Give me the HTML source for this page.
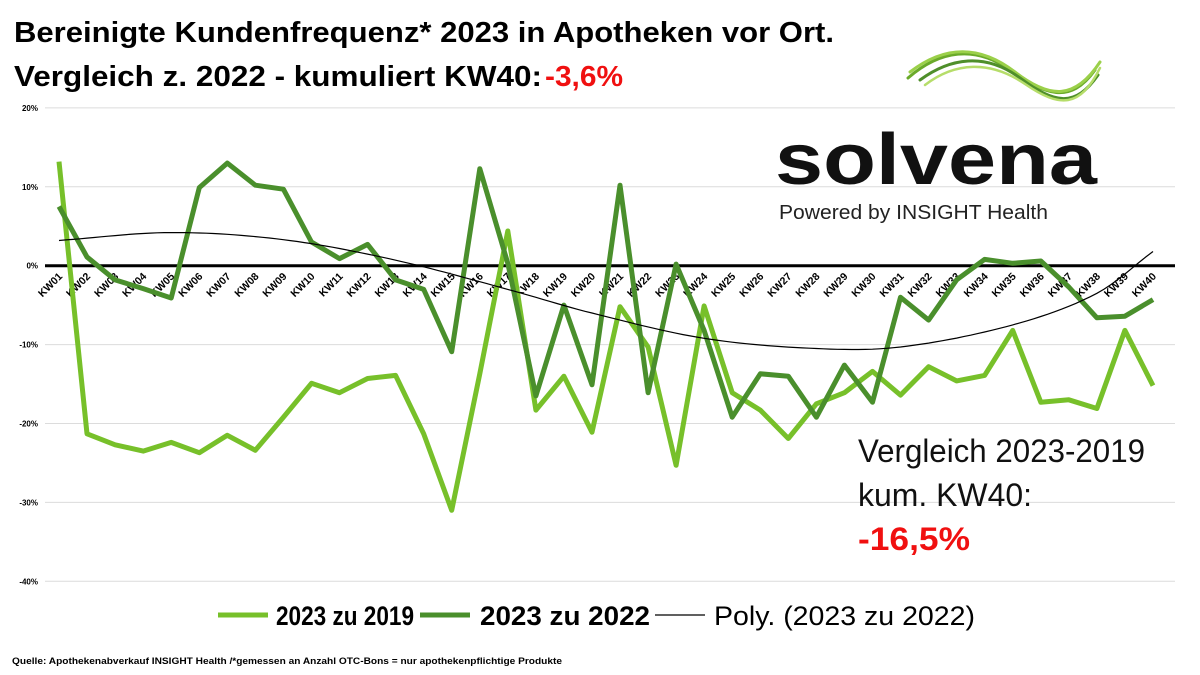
<!DOCTYPE html>
<html><head><meta charset="utf-8"><style>
html,body{margin:0;padding:0;background:#fff;width:1200px;height:675px;overflow:hidden}
svg{display:block}
</style></head><body>
<svg id="s" width="1200" height="675" viewBox="0 0 1200 675" xmlns="http://www.w3.org/2000/svg" font-family="'Liberation Sans', sans-serif">
<text x="14" y="42" font-size="29" font-weight="bold" textLength="820" lengthAdjust="spacingAndGlyphs">Bereinigte Kundenfrequenz* 2023 in Apotheken vor Ort.</text>
<text x="14" y="86" font-size="29" font-weight="bold" textLength="528" lengthAdjust="spacingAndGlyphs">Vergleich z. 2022 - kumuliert KW40:</text>
<text x="545" y="86" font-size="29" font-weight="bold" fill="#f01010" textLength="78" lengthAdjust="spacingAndGlyphs">-3,6%</text>
<g fill="none" stroke-linecap="round">
<path d="M908,78 C940,50 975,45 1010,70 S1070,105 1095,70" stroke="#6aaa2a" stroke-width="3"/>
<path d="M910,72 C945,45 980,45 1015,72 S1075,100 1100,62" stroke="#9bd04a" stroke-width="3"/>
<path d="M920,80 C950,58 985,52 1020,78 S1075,108 1098,75" stroke="#4f8f2a" stroke-width="3"/>
<path d="M925,85 C955,62 990,60 1025,84 S1080,108 1100,68" stroke="#b6dd6a" stroke-width="2.5"/>
</g>
<text x="775" y="184" font-size="72" font-weight="bold" fill="#111" textLength="322" lengthAdjust="spacingAndGlyphs">solvena</text>
<text x="779" y="219" font-size="20" fill="#222" textLength="269" lengthAdjust="spacingAndGlyphs">Powered by INSIGHT Health</text>
<g id="grid"></g>
<g id="lbl"></g>
<g id="series"></g>
<text x="858" y="462" font-size="32" fill="#111" textLength="287" lengthAdjust="spacingAndGlyphs">Vergleich 2023-2019</text>
<text x="858" y="506" font-size="32" fill="#111" textLength="174" lengthAdjust="spacingAndGlyphs">kum. KW40:</text>
<text x="858" y="550" font-size="32" font-weight="bold" fill="#f01010" textLength="112" lengthAdjust="spacingAndGlyphs">-16,5%</text>
<line x1="218" y1="615" x2="268" y2="615" stroke="#77c02a" stroke-width="5"/>
<text x="276" y="625" font-size="27" font-weight="bold" textLength="138" lengthAdjust="spacingAndGlyphs">2023 zu 2019</text>
<line x1="420" y1="615" x2="470" y2="615" stroke="#4a8f2c" stroke-width="5"/>
<text x="480" y="625" font-size="27" font-weight="bold" textLength="170" lengthAdjust="spacingAndGlyphs">2023 zu 2022</text>
<line x1="655" y1="615" x2="705" y2="615" stroke="#000" stroke-width="1.2"/>
<text x="714" y="625" font-size="27" textLength="261" lengthAdjust="spacingAndGlyphs">Poly. (2023 zu 2022)</text>
<text x="12" y="664" font-size="9.5" font-weight="bold" textLength="550" lengthAdjust="spacingAndGlyphs">Quelle: Apothekenabverkauf INSIGHT Health /*gemessen an Anzahl OTC-Bons = nur apothekenpflichtige Produkte</text>
</svg>
<script>
var NS="http://www.w3.org/2000/svg";
function el(p,t,a,txt){var e=document.createElementNS(NS,t);for(var k in a)e.setAttribute(k,a[k]);if(txt)e.textContent=txt;document.getElementById(p).appendChild(e);return e;}
function Y(v){return 265.7-v*7.89;}
function X(i){return 59+i*28.05;}
var g=[20,10,-10,-20,-30,-40];
g.forEach(function(v){el("grid","line",{x1:45,x2:1175,y1:Y(v),y2:Y(v),stroke:"#dcdcdc","stroke-width":1});
el("grid","text",{x:38,y:Y(v)+3,"font-size":8,"font-weight":"bold","text-anchor":"end"},v+"%");});
el("grid","text",{x:38,y:Y(0)+3,"font-size":8,"font-weight":"bold","text-anchor":"end"},"0%");
el("grid","line",{x1:45,x2:1175,y1:Y(0),y2:Y(0),stroke:"#000","stroke-width":3});
for(var i=0;i<40;i++){var x=X(i)+4,y=277;var n=(i+1<10?"0":"")+(i+1);
el("lbl","text",{x:x,y:y,"font-size":10.5,"font-weight":"bold","text-anchor":"end",transform:"rotate(-45 "+x+" "+y+")"},"KW"+n);}
var a=[13.2,-21.3,-22.7,-23.5,-22.4,-23.7,-21.5,-23.4,-19.2,-14.9,-16.1,-14.3,-13.9,-21.3,-31,-13.7,4.4,-18.3,-14,-21.1,-5.2,-10.3,-25.3,-5.1,-16.1,-18.3,-21.9,-17.5,-16.1,-13.4,-16.4,-12.8,-14.6,-13.9,-8.2,-17.3,-17,-18.1,-8.2,-15.2];
var b=[7.5,1.1,-1.8,-2.9,-4.1,9.9,13,10.2,9.7,3,0.9,2.7,-1.8,-3,-10.9,12.3,0.3,-16.5,-5,-15.1,10.2,-16.1,0.2,-8.2,-19.2,-13.7,-14,-19.2,-12.6,-17.3,-4,-6.9,-1.8,0.8,0.3,0.6,-2.7,-6.6,-6.4,-4.3];
function pts(d){return d.map(function(v,i){return X(i).toFixed(1)+","+Y(v).toFixed(1)}).join(" ");}
el("series","polyline",{points:pts(a),fill:"none",stroke:"#77c02a","stroke-width":5,"stroke-linejoin":"round"});
el("series","polyline",{points:pts(b),fill:"none",stroke:"#4a8f2c","stroke-width":5,"stroke-linejoin":"round"});
var kx=[0,4,8,12,16,19,23,27,30,34,37,39],ky=[3.2,4.2,3.3,0.7,-3.0,-6.0,-9.2,-10.5,-10.3,-7.5,-3.5,1.8];
var p=[];for(var t=0;t<=39;t+=0.25){var j=0;while(j<kx.length-2&&t>kx[j+1])j++;
var x0=kx[j],x1=kx[j+1],u=(t-x0)/(x1-x0);
var m0=j>0?(ky[j+1]-ky[j-1])/(kx[j+1]-kx[j-1]):(ky[1]-ky[0])/(kx[1]-kx[0]);
var m1=j+2<kx.length?(ky[j+2]-ky[j])/(kx[j+2]-kx[j]):(ky[j+1]-ky[j])/(x1-x0);
var h=x1-x0,u2=u*u,u3=u2*u;
var v=(2*u3-3*u2+1)*ky[j]+(u3-2*u2+u)*h*m0+(-2*u3+3*u2)*ky[j+1]+(u3-u2)*h*m1;
p.push(X(t).toFixed(1)+","+Y(v).toFixed(1));}
el("series","polyline",{points:p.join(" "),fill:"none",stroke:"#000","stroke-width":1.2});
</script>
</body></html>
